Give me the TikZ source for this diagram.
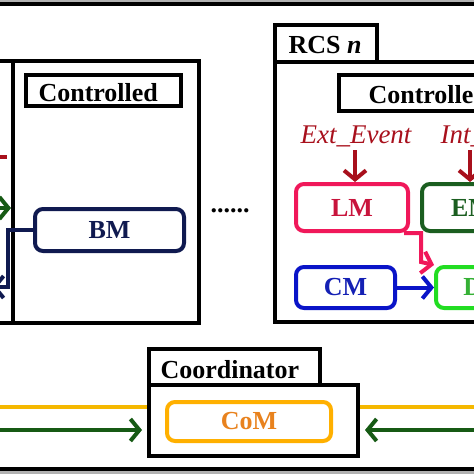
\documentclass[tikz,border=0pt]{standalone}
\usepackage{fontspec}
\setmainfont{Liberation Serif}
\usepackage{tikz}
\usetikzlibrary{arrows.meta}
\definecolor{RcsNavy}{HTML}{101A50}
\definecolor{RcsCrimson}{HTML}{F0185A}
\definecolor{RcsCrimsonText}{HTML}{C8143C}
\definecolor{RcsDarkRed}{HTML}{A8101C}
\definecolor{RcsDarkGreen}{HTML}{1B5E20}
\definecolor{RcsLime}{HTML}{22DD22}
\definecolor{RcsLimeText}{HTML}{35B035}
\definecolor{RcsBlue}{HTML}{0A14C8}
\definecolor{RcsBlueText}{HTML}{1420B4}
\definecolor{RcsGold}{HTML}{F5B800}
\definecolor{RcsOrange}{HTML}{FFB000}
\definecolor{RcsOrangeText}{HTML}{E8821E}
\definecolor{RcsArrowGreen}{HTML}{165A14}
\newcommand{\boxfont}{\fontsize{26}{30}\selectfont\bfseries}
\tikzset{
  frame/.style={draw=black, line width=4pt},
  labelbox/.style={draw=black, line width=4pt, inner sep=0pt},
  module/.style={draw, line width=4pt, rounded corners=8pt, inner sep=0pt, font=\boxfont},
  flow/.style={line width=4pt, -{Straight Barb[length=9pt,width=22pt]}}
}

\begin{document}
\begin{tikzpicture}[x=1pt,y=-1pt]
  \useasboundingbox (0,0) rectangle (474,474);
  \clip (0,0) rectangle (474,474);
  % outer bands
  \fill[gray!60] (0,0) rectangle (474,2);
  \draw[frame] (-5,4) -- (480,4);
  \draw[frame] (-5,469) -- (480,469);
  \fill[gray!60] (0,471) rectangle (474,474);

  % RCS 1 (cut off)
  \draw[frame] (-5,61) -- (199,61) -- (199,323) -- (-5,323);
  \draw[frame] (13,61) -- (13,323);
  \node[labelbox, minimum width=155pt, minimum height=31pt] (ctlL) at (103.5,90.5) {};
  \node[font=\boxfont, anchor=base west] (ctlLtext) at (35,101) {Controlled};
  \node[module, draw=RcsNavy, text=RcsNavy, minimum width=149pt, minimum height=42pt] (BM) at (109.5,230) {BM};
  \coordinate (redL) at (-5,157);
  \coordinate (redLend) at (7,157);
  \draw[line width=4pt, RcsDarkRed] (redL) -- (redLend);
  \coordinate (greenL) at (-20,208);
  \coordinate (greenLend) at (11,208);
  \draw[flow, RcsArrowGreen] (greenL) -- (greenLend);
  \coordinate (bmbend) at (8,230);
  \coordinate (bmdown) at (8,287);
  \coordinate (bmout) at (-8,287);
  \draw[flow, RcsNavy] (BM.west) -- (bmbend) -- (bmdown) -- (bmout);

  \node[font=\boxfont] (dots) at (230,211) {......};

  % RCS n
  \draw[frame] (275,62) rectangle (377,25);
  \node[font=\boxfont, anchor=base west] (rcsn) at (285,53) {RCS \textit{n}};
  \draw[frame] (480,62) -- (275,62) -- (275,322) -- (480,322);
  \node[labelbox, minimum width=182pt, minimum height=36pt] (ctlR) at (430,93) {};
  \node[font=\boxfont, anchor=base west] (ctlRtext) at (365,103) {Controlled};
  \node[font=\fontsize{27}{30}\selectfont\itshape, text=RcsDarkRed, anchor=base west] (ext) at (297,143) {Ext\_Event};
  \node[font=\fontsize{27}{30}\selectfont\itshape, text=RcsDarkRed, anchor=base west] (int) at (437,143) {Int\_Event};
  \node[module, draw=RcsCrimson, text=RcsCrimsonText, minimum width=112pt, minimum height=47pt] (LM) at (352,207.5) {LM};
  \node[module, draw=RcsDarkGreen, text=RcsDarkGreen, minimum width=100pt, minimum height=47pt] (EM) at (472,207.5) {EM};
  \node[module, draw=RcsBlue, text=RcsBlueText, minimum width=99pt, minimum height=41pt] (CM) at (345.5,287.5) {CM};
  \node[module, draw=RcsLime, text=RcsLimeText, minimum width=98pt, minimum height=41pt] (DM) at (485,287.5) {DM};
  \coordinate (extin) at (355,150);
  \coordinate (intin) at (470,150);
  \draw[flow, RcsDarkRed] (extin) -- (extin |- LM.north);
  \draw[flow, RcsDarkRed] (intin) -- (intin |- EM.north);
  \coordinate (lmbend) at (421,262);
  \draw[flow, RcsCrimson] ([xshift=-6pt]LM.south east) -| (lmbend) -- (DM.north west);
  \draw[flow, RcsBlue] (CM.east) -- (DM.west);

  % Coordinator
  \draw[frame] (149,385) -- (149,349) -- (320,349) -- (320,385);
  \node[font=\boxfont, anchor=base west] (coordlbl) at (157,378) {Coordinator};
  \node[labelbox, minimum width=209pt, minimum height=71pt] (coord) at (253.5,420.5) {};
  \node[module, draw=RcsOrange, text=RcsOrangeText, minimum width=164pt, minimum height=39pt] (CoM) at (249,421.5) {CoM};
  \coordinate (goldL) at (-5,407);
  \coordinate (goldR) at (480,407);
  \draw[line width=4pt, RcsGold] (goldL) -- (goldL -| coord.west);
  \draw[line width=4pt, RcsGold] (goldR) -- (goldR -| coord.east);
  \coordinate (grnL) at (-5,430);
  \coordinate (grnR) at (480,430);
  \draw[flow, RcsArrowGreen] (grnL) -- ([xshift=-5pt]grnL -| coord.west);
  \draw[flow, RcsArrowGreen] (grnR) -- ([xshift=5pt]grnR -| coord.east);
\end{tikzpicture}
\end{document}
